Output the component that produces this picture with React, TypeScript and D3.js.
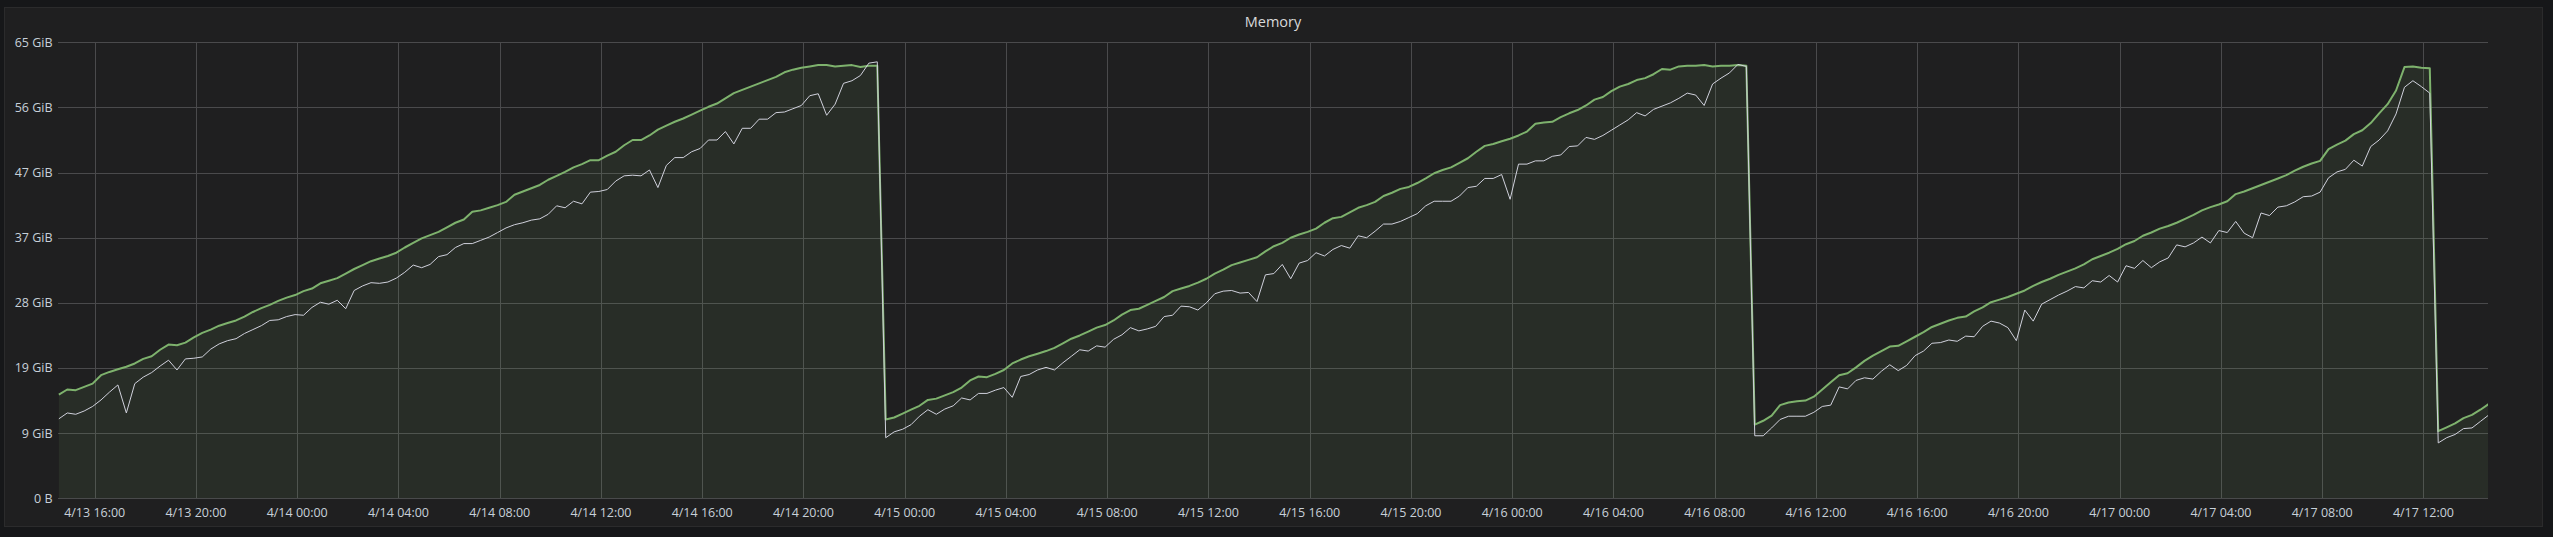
import React from "react";
import * as d3 from "d3";

// ---- Data (values in GB = 1e9 bytes), one point every 20 min starting 4/13 14:35 ----
const startTime = new Date(2017, 3, 13, 14, 35);
const stepMinutes = 20;

const totalDay1: number[] = [
  15.9, 16.7, 16.6, 17.1, 17.6, 18.9, 19.4, 19.8, 20.2, 20.7, 21.4, 21.8, 22.8, 23.6, 23.5, 23.9,
  24.7, 25.4, 25.9, 26.5, 26.9, 27.3, 27.9, 28.6, 29.2, 29.7, 30.3, 30.8, 31.2, 31.8, 32.2, 33.0,
  33.4, 33.8, 34.5, 35.2, 35.8, 36.4, 36.8, 37.2, 37.7, 38.5, 39.2, 39.9, 40.4, 40.9, 41.6, 42.3,
  42.8, 44.0, 44.2, 44.6, 45.0, 45.5, 46.6, 47.1, 47.6, 48.1, 48.9, 49.5, 50.1, 50.8, 51.3, 51.9,
  51.9, 52.6, 53.2, 54.2, 55.0, 55.0, 55.7, 56.6, 57.2, 57.8, 58.3, 58.9, 59.5, 60.1, 60.6, 61.4,
  62.2, 62.7, 63.2, 63.7, 64.2, 64.7, 65.4, 65.8, 66.1, 66.3, 66.5, 66.5, 66.3, 66.4, 66.5, 66.2,
  66.4, 66.4,
];
const totalDay2: number[] = [
  12.1, 12.4, 13.0, 13.6, 14.2, 15.1, 15.3, 15.8, 16.3, 17.0, 18.1, 18.7, 18.6, 19.1, 19.7, 20.7,
  21.3, 21.8, 22.2, 22.6, 23.1, 23.8, 24.5, 25.0, 25.6, 26.2, 26.6, 27.3, 28.2, 28.9, 29.1, 29.7,
  30.3, 30.9, 31.8, 32.2, 32.6, 33.1, 33.7, 34.5, 35.1, 35.8, 36.2, 36.6, 37.0, 37.9, 38.7, 39.2,
  40.0, 40.5, 40.9, 41.4, 42.3, 43.0, 43.2, 43.9, 44.6, 45.0, 45.5, 46.4, 46.9, 47.5, 47.8, 48.4,
  49.1, 49.9, 50.4, 50.8, 51.5, 52.2, 53.2, 54.1, 54.4, 54.8, 55.2, 55.7, 56.3, 57.5, 57.7, 57.8,
  58.5, 59.1, 59.6, 60.3, 61.2, 61.6, 62.5, 63.2, 63.6, 64.2, 64.5, 65.1, 65.9, 65.8, 66.3, 66.4,
  66.4, 66.5, 66.3, 66.4, 66.4, 66.5, 66.4,
];
const totalDay3: number[] = [
  11.3, 11.9, 12.7, 14.3, 14.7, 14.9, 15.0, 15.6, 16.7, 17.8, 18.9, 19.2, 20.1, 21.1, 21.9, 22.6,
  23.3, 23.4, 24.1, 24.8, 25.5, 26.3, 26.8, 27.3, 27.7, 27.9, 28.7, 29.3, 30.1, 30.5, 30.9, 31.4,
  31.9, 32.6, 33.2, 33.7, 34.3, 34.8, 35.3, 35.9, 36.7, 37.2, 37.7, 38.3, 39.0, 39.5, 40.3, 40.8,
  41.4, 41.8, 42.3, 42.9, 43.5, 44.2, 44.7, 45.1, 45.6, 46.7, 47.1, 47.6, 48.1, 48.6, 49.1, 49.6,
  50.3, 50.9, 51.4, 51.8, 53.6, 54.3, 54.9, 55.9, 56.5, 57.6, 59.1, 60.5, 62.6, 66.2, 66.3, 66.1,
  66.0,
];
const totalDay4: number[] = [10.3, 10.9, 11.5, 12.3, 12.8, 13.6, 14.5];

const usedDay1: number[] = [
  12.2, 13.1, 12.9, 13.4, 14.1, 15.1, 16.3, 17.4, 13.1, 17.6, 18.6, 19.3, 20.3, 21.2, 19.7, 21.4,
  21.5, 21.7, 22.9, 23.7, 24.2, 24.5, 25.3, 25.9, 26.5, 27.3, 27.4, 27.9, 28.2, 28.1, 29.3, 30.1,
  29.8, 30.4, 29.1, 31.9, 32.6, 33.1, 33.0, 33.2, 33.8, 34.7, 35.8, 35.4, 35.9, 37.1, 37.4, 38.5,
  39.1, 39.1, 39.6, 40.1, 40.8, 41.5, 42.0, 42.3, 42.7, 42.9, 43.6, 44.9, 44.6, 45.6, 45.2, 47.0,
  47.1, 47.4, 48.7, 49.5, 49.6, 49.5, 50.4, 47.7, 51.1, 52.3, 52.3, 53.2, 53.7, 55.0, 55.0, 56.3,
  54.4, 56.8, 56.8, 58.2, 58.2, 59.2, 59.3, 59.8, 60.3, 61.8, 62.1, 58.8, 60.5, 63.7, 64.1, 64.9,
  66.8, 67.0,
];
const usedDay2: number[] = [
  9.3, 10.2, 10.6, 11.3, 12.6, 13.6, 12.9, 13.7, 14.2, 15.4, 15.1, 16.1, 16.1, 16.6, 17.0, 15.5,
  18.7, 19.0, 19.7, 20.1, 19.7, 20.8, 21.8, 22.8, 22.6, 23.4, 23.2, 24.4, 25.1, 26.2, 25.7, 26.0,
  26.4, 27.9, 28.1, 29.5, 29.4, 28.9, 30.0, 31.4, 31.8, 31.9, 31.5, 31.6, 30.2, 34.3, 34.5, 35.9,
  33.7, 36.1, 36.5, 37.7, 37.2, 38.2, 38.8, 38.4, 40.3, 40.0, 41.0, 42.1, 42.1, 42.5, 43.1, 43.7,
  44.9, 45.6, 45.6, 45.6, 46.4, 47.7, 47.9, 49.1, 49.1, 49.7, 45.9, 51.3, 51.3, 51.8, 51.8, 52.5,
  52.7, 54.0, 54.1, 55.4, 55.1, 55.7, 56.5, 57.3, 58.1, 59.2, 58.7, 59.7, 60.2, 60.7, 61.4, 62.2,
  61.9, 60.3, 63.6, 64.5, 65.3, 66.6, 66.3,
];
const usedDay3: number[] = [
  9.6, 9.6, 10.8, 12.1, 12.6, 12.6, 12.6, 13.2, 14.1, 14.3, 17.1, 16.8, 18.1, 18.5, 18.3, 19.5,
  20.5, 19.6, 20.4, 21.9, 22.6, 23.8, 23.9, 24.3, 24.1, 24.9, 24.8, 26.4, 27.2, 26.9, 26.2, 24.2,
  28.9, 27.2, 29.8, 30.5, 31.2, 31.8, 32.5, 32.3, 33.4, 33.2, 34.2, 33.2, 35.7, 35.3, 36.5, 35.4,
  36.3, 36.9, 38.9, 38.6, 39.2, 40.1, 39.2, 41.1, 40.8, 42.5, 40.7, 40.0, 43.8, 43.4, 44.7, 44.9,
  45.5, 46.3, 46.4, 47.0, 49.2, 50.1, 50.5, 51.9, 51.0, 54.0, 55.0, 56.4, 59.0, 63.1, 64.1, 63.2,
  62.2,
];
const usedDay4: number[] = [8.5, 9.3, 9.8, 10.7, 10.8, 11.8, 12.8];

const yTickValues: number[] = [0, 10, 20, 30, 40, 50, 60, 70];
const yTickLabels: string[] = ["0 B", "9 GiB", "19 GiB", "28 GiB", "37 GiB", "47 GiB", "56 GiB", "65 GiB"];
const chartTitle = "Memory";

// ---- Layout ----
const W = 2553;
const H = 537;
const plotLeft = 58;
const plotRight = 2488;
const plotTop = 42.3;
const plotBottom = 498.3;

type Pt = { t: Date; v: number };
function toSeries(values: number[]): Pt[] {
  return values.map((v, i) => ({ t: new Date(startTime.getTime() + i * stepMinutes * 60000), v }));
}

export default function App() {
  const total = toSeries([...totalDay1, ...totalDay2, ...totalDay3, ...totalDay4]);
  const used = toSeries([...usedDay1, ...usedDay2, ...usedDay3, ...usedDay4]);

  const x = d3
    .scaleTime()
    .domain([new Date(2017, 3, 13, 14, 33), new Date(2017, 3, 17, 14, 33)])
    .range([plotLeft, plotRight]);
  const y = d3.scaleLinear().domain([0, 70]).range([plotBottom, plotTop]);

  const xTicks = d3.timeHour.every(4)!.range(new Date(2017, 3, 13, 16, 0), new Date(2017, 3, 17, 14, 0));
  const fmt = d3.timeFormat("%-m/%-d %H:%M");

  const line = d3
    .line<Pt>()
    .x((d) => x(d.t))
    .y((d) => y(d.v));
  const area = d3
    .area<Pt>()
    .x((d) => x(d.t))
    .y0(y(0))
    .y1((d) => y(d.v));

  const font = "'Open Sans', 'Noto Sans', sans-serif";

  return (
    <svg
      width={W}
      height={H}
      style={{ position: "fixed", left: 0, top: 0, display: "block" }}
    >
      <rect x={0} y={0} width={W} height={H} fill="#161719" />
      <rect x={4.5} y={7.5} width={2538} height={519} fill="#1f1f20" stroke="#2b2b2c" />
      <text
        x={1273}
        y={27}
        textAnchor="middle"
        fill="#d8d9da"
        fontFamily={font}
        fontSize={14.5}
        fontWeight={500}
      >
        {chartTitle}
      </text>
      <defs>
        <clipPath id="plotClip">
          <rect x={plotLeft} y={plotTop - 5} width={plotRight - plotLeft} height={plotBottom - plotTop + 5} />
        </clipPath>
      </defs>
      {/* grid */}
      {yTickValues.map((v, i) => (
        <g key={"y" + i}>
          <line
            x1={plotLeft}
            x2={plotRight}
            y1={Math.round(y(v)) + 0.5}
            y2={Math.round(y(v)) + 0.5}
            stroke="#4a4a4c"
            strokeWidth={1}
          />
          <text
            x={52.5}
            y={y(v)}
            dy="0.35em"
            textAnchor="end"
            fill="#c7d0d9"
            fontFamily={font}
            fontSize={12.5}
          >
            {yTickLabels[i]}
          </text>
        </g>
      ))}
      {xTicks.map((t, i) => (
        <g key={"x" + i}>
          <line
            x1={Math.round(x(t)) + 0.5}
            x2={Math.round(x(t)) + 0.5}
            y1={plotTop}
            y2={plotBottom}
            stroke="#4a4a4c"
            strokeWidth={1}
          />
          <text
            x={x(t)}
            y={517}
            textAnchor="middle"
            fill="#c7d0d9"
            fontFamily={font}
            fontSize={12.5}
          >
            {fmt(t)}
          </text>
        </g>
      ))}
      <g clipPath="url(#plotClip)">
        <path d={area(total) || ""} fill="#7eb26d" fillOpacity={0.1} />
        <path d={line(total) || ""} fill="none" stroke="#7eb26d" strokeWidth={2} strokeLinejoin="round" />
        <path d={line(used) || ""} fill="none" stroke="#d0d1dc" strokeWidth={1} strokeLinejoin="round" />
      </g>
    </svg>
  );
}
